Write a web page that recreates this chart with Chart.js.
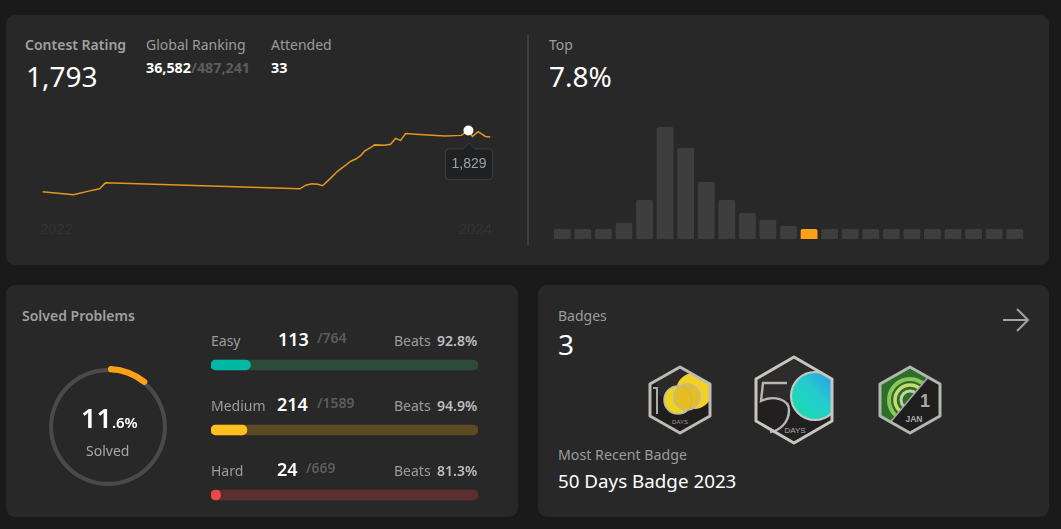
<!DOCTYPE html>
<html>
<head>
<meta charset="utf-8">
<title>Profile stats</title>
<script src="https://cdn.jsdelivr.net/npm/chart.js@4"></script>
<style>
html, body { margin: 0; padding: 0; background: #1a1a1a; width: 1061px; height: 529px; overflow: hidden; }
body { position: relative; font-family: "Noto Sans", "Open Sans", sans-serif; }
.card { position: absolute; background: #282828; border-radius: 9px; }
canvas { position: absolute; }
.t { position: absolute; white-space: nowrap; line-height: 20px; height: 20px; }
.label { font-size: 14px; color: #9c9c9c; }
.head { font-size: 14px; font-weight: 600; color: #a0a0a0; }
.big { font-size: 28px; color: #fff; line-height: 36px; height: 36px; }
.strong { font-size: 14.3px; font-weight: 700; color: #fff; }
.dim { color: #5c5c5c; }
.count { font-size: 18px; font-weight: 600; color: #fff; }
.total { font-size: 14px; font-weight: 600; color: #5c5c5c; }
.pct { font-size: 14px; font-weight: 600; color: #bdbdbd; }
#divider { position: absolute; left: 527px; top: 35px; width: 2px; height: 210px; background: #3e3e3e; }
svg { position: absolute; }
</style>
</head>
<body>
<div class="card" style="left:6px;top:15px;width:1043px;height:250px"></div>
<div class="card" style="left:6px;top:285px;width:512px;height:232px"></div>
<div class="card" style="left:538px;top:285px;width:511px;height:232px"></div>

<div class="t head" style="left:25px;top:35px">Contest Rating</div>
<div class="t big" style="left:26px;top:58px">1,793</div>
<div class="t label" style="left:146px;top:35px">Global Ranking</div>
<div class="t strong" style="left:146px;top:58px">36,582<span class="dim">/487,241</span></div>
<div class="t label" style="left:271px;top:35px">Attended</div>
<div class="t strong" style="left:271px;top:58px">33</div>
<div id="divider"></div>
<div class="t label" style="left:549px;top:35px">Top</div>
<div class="t big" style="left:549px;top:58px">7.8%</div>

<canvas id="chart-rating" width="480" height="130" style="left:26px;top:115px;width:480px;height:130px"></canvas>
<canvas id="chart-top" width="473" height="124" style="left:552px;top:115px;width:473px;height:124px"></canvas>

<div class="t head" style="left:22px;top:306px">Solved Problems</div>
<canvas id="chart-ring-bg" width="124" height="124" style="left:46px;top:365px;width:124px;height:124px"></canvas>
<canvas id="chart-ring" width="124" height="124" style="left:46px;top:365px;width:124px;height:124px"></canvas>
<div class="t" style="left:81px;top:406px;color:#fff;line-height:24px;height:24px;font-weight:600;font-size:27px">11<span style="font-size:15px">.6%</span></div>
<div class="t" style="left:86px;top:441px;color:#a8a8a8;font-size:14px">Solved</div>

<div class="t label" style="left:211px;top:331px">Easy</div>
<div class="t count" style="left:278px;top:329px">113</div>
<div class="t total" style="left:317px;top:328px">/764</div>
<div class="t label" style="left:394px;top:331px">Beats</div>
<div class="t pct" style="left:437px;top:331px">92.8%</div>

<div class="t label" style="left:211px;top:396px">Medium</div>
<div class="t count" style="left:277px;top:394px">214</div>
<div class="t total" style="left:317px;top:393px">/1589</div>
<div class="t label" style="left:394px;top:396px">Beats</div>
<div class="t pct" style="left:437px;top:396px">94.9%</div>

<div class="t label" style="left:211px;top:461px">Hard</div>
<div class="t count" style="left:277px;top:459px">24</div>
<div class="t total" style="left:306px;top:458px">/669</div>
<div class="t label" style="left:394px;top:461px">Beats</div>
<div class="t pct" style="left:437px;top:461px">81.3%</div>

<canvas id="chart-progress" width="267" height="196" style="left:211px;top:332px;width:267px;height:196px"></canvas>

<div class="t label" style="left:558px;top:306px">Badges</div>
<div class="t big" style="left:558px;top:326px">3</div>
<svg style="left:1002px;top:307px" width="28" height="26" viewBox="0 0 28 26">
  <path d="M1 13 H26 M15 2 L26 13 L15 24" fill="none" stroke="#a3a3a3" stroke-width="2"/>
</svg>

<svg style="left:646px;top:364px" width="68" height="72" viewBox="0 0 68 72">
  <defs><clipPath id="hexa"><path d="M34 3 L64 20 V52 L34 69 L4 52 V20 Z"/></clipPath></defs>
  <path d="M34 3 L64 20 V52 L34 69 L4 52 V20 Z" fill="#1f1d1d"/>
  <g clip-path="url(#hexa)">
    <path d="M11 4 L34 4 L64 4 V38 C58 44 50 45 44 44 L11 30 Z" fill="#2a2828"/>
    <circle cx="48" cy="27" r="18" fill="#f2d025"/>
    <circle cx="32" cy="36" r="14" fill="#eed220" stroke="#bdb8a8" stroke-width="1.5"/>
    <circle cx="41" cy="33" r="13" fill="#e2b51f" fill-opacity="0.7" stroke="#bdb8a8" stroke-width="1.5"/>
  </g>
  <path d="M7 24 H11 V50" fill="none" stroke="#aaa" stroke-width="2"/>
  <path d="M34 3 L64 20 V52 L34 69 L4 52 V20 Z" fill="none" stroke="#bdbbb6" stroke-width="3" stroke-linejoin="round"/>
  <text x="34" y="60" text-anchor="middle" font-size="6" fill="#999" font-family="Liberation Sans">DAYS</text>
</svg>

<svg style="left:753px;top:355px" width="82" height="90" viewBox="0 0 82 90">
  <defs>
    <clipPath id="hexb"><path d="M41 2 L79 24 V66 L41 88 L3 66 V24 Z"/></clipPath>
    <linearGradient id="blue" x1="0" y1="1" x2="1" y2="0"><stop offset="0" stop-color="#17e0a4"/><stop offset="0.55" stop-color="#25cbd0"/><stop offset="1" stop-color="#2f8fee"/></linearGradient>
  </defs>
  <path d="M41 2 L79 24 V66 L41 88 L3 66 V24 Z" fill="#211f1f"/>
  <path d="M41 2 L79 24 V45 L3 45 V24 Z" fill="#2c2a2a"/>
  <g clip-path="url(#hexb)">
    <circle cx="62" cy="41" r="24" fill="url(#blue)" stroke="#c9c7c2" stroke-width="2.2"/>
  </g>
  <path d="M34 28 H10 L8 46 C20 40 36 44 36 55 C36 68 26 76 17 77" fill="none" stroke="#b8b6b2" stroke-width="2.4"/>
  <path d="M41 2 L79 24 V66 L41 88 L3 66 V24 Z" fill="none" stroke="#c8c6c1" stroke-width="3" stroke-linejoin="round"/>
  <text x="42" y="78" text-anchor="middle" font-size="8" fill="#aaa" font-family="Liberation Sans">DAYS</text>
</svg>

<svg style="left:876px;top:364px" width="68" height="72" viewBox="0 0 68 72">
  <defs>
    <clipPath id="hexc"><path d="M34 3 L64 20 V52 L34 69 L4 52 V20 Z"/></clipPath>
    <clipPath id="tri"><path d="M54 11 L12 61 H0 V0 H54 Z"/></clipPath>
  </defs>
  <path d="M34 3 L64 20 V52 L34 69 L4 52 V20 Z" fill="#1f1d1d"/>
  <g clip-path="url(#hexc)">
    <g clip-path="url(#tri)">
      <rect x="0" y="0" width="68" height="72" fill="#2d6e2a"/>
      <circle cx="34" cy="36" r="21" fill="none" stroke="#8cc65a" stroke-width="4"/>
      <circle cx="34" cy="36" r="15" fill="none" stroke="#c4dd6e" stroke-width="3.5"/>
      <circle cx="34" cy="36" r="9" fill="none" stroke="#c9cc9e" stroke-width="3"/>
    </g>
    <path d="M12 61 L54 11" stroke="#a9a7a3" stroke-width="1.5"/>
  </g>
  <path d="M34 3 L64 20 V52 L34 69 L4 52 V20 Z" fill="none" stroke="#b2b8ae" stroke-width="3" stroke-linejoin="round"/>
  <text x="49" y="43" text-anchor="middle" font-size="18" font-weight="700" fill="#aaa" font-family="Liberation Sans">1</text>
  <text x="38" y="58" text-anchor="middle" font-size="8.5" font-weight="700" fill="#aaa" font-family="Liberation Sans">JAN</text>
</svg>

<div class="t" style="left:558px;top:445px;font-size:14.2px;color:#9c9c9c">Most Recent Badge</div>
<div class="t" style="left:558px;top:471px;font-size:18.8px;color:#fff">50 Days Badge 2023</div>

<script>
// Contest history
const contestDates = [2021.933, 2022.08, 2022.152, 2022.205, 2022.233, 2023.162, 2023.19, 2023.219, 2023.248, 2023.271, 2023.31, 2023.343, 2023.381, 2023.405, 2023.429, 2023.452, 2023.471, 2023.505, 2023.519, 2023.567, 2023.595, 2023.619, 2023.643, 2023.667, 2023.733, 2023.814, 2023.857, 2023.933, 2023.967, 2023.986, 2024.014, 2024.048, 2024.071];
const contestRatings = [1488, 1471, 1491, 1504, 1537, 1504, 1524, 1532, 1529, 1521, 1565, 1603, 1636, 1658, 1670, 1689, 1714, 1738, 1749, 1747, 1752, 1785, 1774, 1812, 1807, 1802, 1799, 1802, 1829, 1796, 1823, 1796, 1793];
const yearTicks = [2022, 2024];
const hoverIndex = 28;

// Top % histogram
const topBars = [10, 10, 10, 16, 39, 112, 91, 57, 39, 26, 19, 13, 10, 10, 10, 10, 10, 10, 10, 10, 10, 10, 10];
const myBarIndex = 12;

// Solved problems
const levels = ['Easy', 'Medium', 'Hard'];
const solvedCounts = [113, 214, 24];
const totalCounts = [764, 1589, 669];
const fillColors = ['#00b8a3', '#ffc01e', '#ef4743'];
const trackColors = ['#2d4c38', '#5b4a24', '#5c2e2e'];

Chart.defaults.animation = false;
Chart.defaults.responsive = false;
Chart.defaults.font.family = '"Liberation Sans", Arial, sans-serif';

function renderRating() {
    const chart = new Chart(document.getElementById('chart-rating'), {
        type: 'line',
        data: {
            datasets: [{
                data: contestDates.map((d, i) => ({ x: d, y: contestRatings[i] })),
                borderColor: '#e2981f',
                borderWidth: 1.5,
                tension: 0,
                pointRadius: ctx => ctx.dataIndex === hoverIndex ? 5 : 0,
                pointHoverRadius: ctx => ctx.dataIndex === hoverIndex ? 5 : 0,
                pointBackgroundColor: '#fff',
                pointHoverBackgroundColor: '#fff',
                pointBorderWidth: 0,
                pointHoverBorderWidth: 0
            }]
        },
        options: {
            events: [],
            layout: { padding: { bottom: 5 } },
            plugins: {
                legend: { display: false },
                tooltip: {
                    xAlign: 'center',
                    yAlign: 'top',
                    caretSize: 6,
                    caretPadding: 13,
                    cornerRadius: 4,
                    displayColors: false,
                    backgroundColor: '#1f2021',
                    borderColor: '#3f3f3f',
                    borderWidth: 1,
                    bodyColor: '#a0a0a0',
                    bodyFont: { size: 14 },
                    padding: { x: 6, y: 7 },
                    callbacks: {
                        title: () => '',
                        label: ctx => ctx.parsed.y.toLocaleString('en-US')
                    }
                }
            },
            scales: {
                x: {
                    type: 'linear',
                    min: 2021.857,
                    max: 2024.143,
                    grid: { display: false },
                    border: { display: false },
                    afterBuildTicks: axis => { axis.ticks = yearTicks.map(v => ({ value: v })); },
                    ticks: {
                        color: '#333333',
                        font: { size: 15 },
                        padding: 1,
                        maxRotation: 0,
                        callback: v => String(v)
                    }
                },
                y: { display: false, min: 1374.5, max: 1911.5 }
            }
        }
    });
    const active = [{ datasetIndex: 0, index: hoverIndex }];
    chart.setActiveElements(active);
    chart.tooltip.setActiveElements(active, { x: 0, y: 0 });
    chart.update();
}

function renderTop() {
    new Chart(document.getElementById('chart-top'), {
        type: 'bar',
        data: {
            labels: topBars.map((v, i) => i),
            datasets: [{
                data: topBars,
                backgroundColor: topBars.map((v, i) => i === myBarIndex ? '#ffa116' : '#3e3e3e'),
                borderRadius: { topLeft: 2, topRight: 2 },
                borderSkipped: 'bottom',
                categoryPercentage: 0.82,
                barPercentage: 1
            }]
        },
        options: {
            events: [],
            plugins: { legend: { display: false }, tooltip: { enabled: false } },
            scales: {
                x: { display: false },
                y: { display: false, min: 0, max: 124 }
            }
        }
    });
}

function renderRing() {
    const solved = solvedCounts.reduce((a, b) => a + b, 0);
    const total = totalCounts.reduce((a, b) => a + b, 0);
    new Chart(document.getElementById('chart-ring-bg'), {
        type: 'doughnut',
        data: { datasets: [{ data: [total], backgroundColor: ['#4a4a4a'], borderWidth: 0 }] },
        options: {
            events: [],
            radius: 59,
            cutout: '93%',
            plugins: { legend: { display: false }, tooltip: { enabled: false } }
        }
    });
    new Chart(document.getElementById('chart-ring'), {
        type: 'doughnut',
        data: {
            datasets: [{
                data: [solved, total - solved],
                backgroundColor: ['#ffa116', 'rgba(0,0,0,0)'],
                borderWidth: 0,
                borderRadius: 3
            }]
        },
        options: {
            events: [],
            radius: 61,
            cutout: '90%',
            plugins: { legend: { display: false }, tooltip: { enabled: false } }
        }
    });
}

function renderProgress() {
    new Chart(document.getElementById('chart-progress'), {
        type: 'bar',
        data: {
            labels: levels,
            datasets: [
                {
                    data: solvedCounts.map((s, i) => s / totalCounts[i] * 100),
                    backgroundColor: fillColors,
                    borderRadius: 5,
                    borderSkipped: false,
                    barThickness: 10
                },
                {
                    data: totalCounts.map(() => 100),
                    backgroundColor: trackColors,
                    borderRadius: 5,
                    borderSkipped: false,
                    barThickness: 10
                }
            ]
        },
        options: {
            indexAxis: 'y',
            events: [],
            layout: { padding: { top: 0.5, bottom: 0.5 } },
            datasets: { bar: { grouped: false } },
            plugins: { legend: { display: false }, tooltip: { enabled: false } },
            scales: {
                x: { display: false, min: 0, max: 100 },
                y: { display: false }
            }
        }
    });
}

renderRating();
renderTop();
renderRing();
renderProgress();
</script>
</body>
</html>
